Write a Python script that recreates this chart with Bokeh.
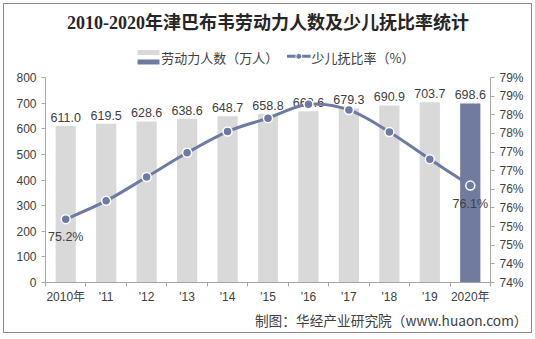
from bokeh.plotting import figure
from bokeh.models import (Range1d, LinearAxis, FixedTicker, CustomJSTickFormatter,
                          ColumnDataSource, Title)
from bokeh.layouts import column
from bokeh.embed import file_html
from bokeh.resources import INLINE
from bokeh.core.properties import value

# ---------------- data ----------------
title_text = "2010-2020年津巴布韦劳动力人数及少儿抚比率统计"
year_labels = ["2010年", "'11", "'12", "'13", "'14", "'15", "'16", "'17", "'18", "'19", "2020年"]
labor = [611.0, 619.5, 628.6, 638.6, 648.7, 658.8, 668.6, 679.3, 690.9, 703.7, 698.6]
ratio = [75.2, 75.69, 76.33, 76.98, 77.55, 77.91, 78.28, 78.13, 77.54, 76.81, 76.1]
ratio_labels = ["75.2%", "", "", "", "", "", "", "", "", "", "76.1%"]
left_ticks = [0, 100, 200, 300, 400, 500, 600, 700, 800]
right_ticks = [73.5, 74.0, 74.5, 75.0, 75.5, 76.0, 76.5, 77.0, 77.5, 78.0, 78.5, 79.0]
legend_bar = "劳动力人数（万人）"
legend_line = "少儿抚比率（%）"
source_note = "制图：华经产业研究院（www.huaon.com）"

# ---------------- styles ----------------
GRAY = "#d9d9d9"
DARK = "#707b9f"
LINE = "#6d7aa5"
TXT = "#404040"
AX = "#a6a6a6"
CJK = "Noto Sans CJK SC"
LAT = "Liberation Sans"
W = 527

# ---------------- header (title + legend) ----------------
hdr = figure(width=W, height=64, x_range=Range1d(0, W), y_range=Range1d(64, 0),
             toolbar_location=None, output_backend="svg", min_border=0,
             x_axis_location=None, y_axis_location=None)
hdr.grid.visible = False
hdr.outline_line_color = None
hdr.text(x=[W / 2], y=[18], text=[title_text], text_font=value("Liberation Serif, " + CJK),
         text_font_style="bold", text_font_size="18px", text_align="center",
         text_baseline="middle", text_color="#262626")
hdr.quad(left=[109], right=[135], top=[45.5], bottom=[50.5], fill_color=GRAY, line_color=None)
hdr.quad(left=[109], right=[135], top=[55], bottom=[60], fill_color=DARK, line_color=None)
hdr.text(x=[137], y=[52.5], text=[legend_bar], text_font=value(CJK), text_font_size="13px",
         text_baseline="middle", text_color=TXT)
hdr.line(x=[286, 314], y=[51.8, 51.8], line_color=LINE, line_width=3)
hdr.scatter(x=[300], y=[51.8], size=6, fill_color=LINE, line_color="white", line_width=1)
hdr.text(x=[315], y=[52.5], text=[legend_line], text_font=value(CJK), text_font_size="13px",
         text_baseline="middle", text_color=TXT)

# ---------------- main chart ----------------
n = len(labor)
idx = list(range(n))
colors = [GRAY] * (n - 1) + [DARK]

p = figure(width=W, height=264, x_range=Range1d(-0.5, n - 0.5), y_range=Range1d(0, 800),
           toolbar_location=None, output_backend="svg",
           min_border_left=41, min_border_right=41, min_border_top=9, min_border_bottom=50)
p.grid.visible = False
p.outline_line_color = None
p.background_fill_color = "white"

src = ColumnDataSource(dict(x=idx, labor=labor, ratio=ratio, color=colors,
                            lab=[f"{v:.1f}" for v in labor], rlab=ratio_labels))

p.vbar(x="x", top="labor", width=0.5, fill_color="color", line_color=None, source=src)
p.text(x="x", y="labor", text="lab", source=src, text_align="center", text_baseline="bottom",
       y_offset=-4, text_font=value(LAT), text_font_size="12.5px", text_color=TXT)

# secondary axis for the ratio
p.extra_y_ranges = {"pct": Range1d(73.5, 79.0)}

# smoothed line through the points (cubic Bezier segments from the data)
def ext(i):
    return min(max(i, 0), n - 1)
x0, y0, x1, y1, cx0, cy0, cx1, cy1 = [], [], [], [], [], [], [], []
for i in range(n - 1):
    a, b, c, d = ext(i - 1), i, i + 1, ext(i + 2)
    x0.append(idx[b]); y0.append(ratio[b])
    x1.append(idx[c]); y1.append(ratio[c])
    cx0.append(idx[b] + (idx[c] - idx[a]) / 6.0)
    cy0.append(ratio[b] + (ratio[c] - ratio[a]) / 6.0)
    cx1.append(idx[c] - (idx[d] - idx[b]) / 6.0)
    cy1.append(ratio[c] - (ratio[d] - ratio[b]) / 6.0)
p.bezier(x0=x0, y0=y0, x1=x1, y1=y1, cx0=cx0, cy0=cy0, cx1=cx1, cy1=cy1,
         line_color=LINE, line_width=3, y_range_name="pct")
p.scatter(x="x", y="ratio", source=src, size=9, fill_color=LINE, line_color="white",
          line_width=1.5, y_range_name="pct")
p.text(x="x", y="ratio", text="rlab", source=src, y_range_name="pct", text_align="center",
       text_baseline="top", y_offset=11, text_font=value(LAT), text_font_size="12.5px",
       text_color=TXT)

# axes
xa = p.xaxis[0]
xa.ticker = FixedTicker(ticks=idx, minor_ticks=[i - 0.5 for i in range(n + 1)])
xa.formatter = CustomJSTickFormatter(args=dict(labels=year_labels),
                                     code="return labels[Math.round(tick)] || '';")
xa.major_tick_line_color = None
xa.major_tick_out = 4
xa.major_tick_in = 0
xa.minor_tick_out = 4
xa.minor_tick_in = 0
xa.minor_tick_line_color = AX
xa.axis_line_color = AX
xa.major_label_standoff = 3
xa.major_label_text_font = LAT + ", " + CJK
xa.major_label_text_font_size = "12px"
xa.major_label_text_color = TXT

ya = p.yaxis[0]
ya.ticker = FixedTicker(ticks=left_ticks)
ya.axis_line_color = AX
ya.major_tick_line_color = AX
ya.major_tick_out = 4
ya.major_tick_in = 0
ya.minor_tick_line_color = None
ya.major_label_text_font = LAT
ya.major_label_text_font_size = "12px"
ya.major_label_text_color = TXT
ya.major_label_standoff = 5

ra = LinearAxis(y_range_name="pct", ticker=FixedTicker(ticks=right_ticks),
                formatter=CustomJSTickFormatter(code="return Math.round(tick + 1e-9) + '%';"))
ra.axis_line_color = AX
ra.major_tick_line_color = AX
ra.major_tick_out = 4
ra.major_tick_in = 0
ra.minor_tick_line_color = None
ra.major_label_text_font = LAT
ra.major_label_text_font_size = "12px"
ra.major_label_text_color = TXT
ra.major_label_standoff = 5
p.add_layout(ra, "right")

note = Title(text=source_note, align="right", text_font=CJK, text_font_size="13.7px",
             text_font_style="normal", text_color=TXT, offset=-37, standoff=2)
p.add_layout(note, "below")

layout = column(hdr, p, styles={"border": "1px solid #8a8a8a"}, margin=(3, 0, 0, 3))

open("out.html", "w").write(file_html(layout, INLINE))
